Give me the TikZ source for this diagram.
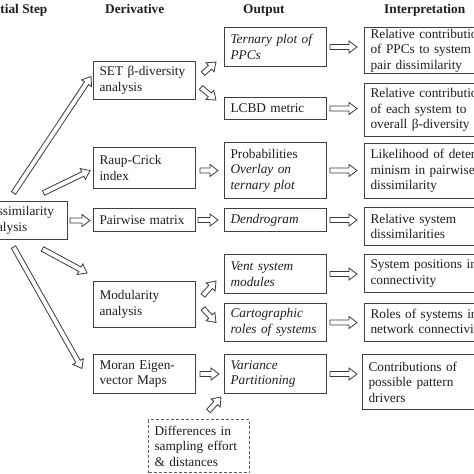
\documentclass[tikz,border=0pt]{standalone}
\usepackage{fontspec}
\setmainfont{Liberation Serif}
\usetikzlibrary{calc}
\newcommand{\fsz}{\fontsize{13.3}{15.5}\selectfont}
\definecolor{boxc}{HTML}{404040}
\definecolor{txtc}{HTML}{1E1E1E}
\definecolor{arrc}{HTML}{3A3A3A}
\newcommand{\barrow}[2]{%
  \coordinate (ba-s) at (#1);
  \coordinate (ba-e) at (#2);
  \coordinate (ba-b) at ($(ba-e)!8pt!(ba-s)$);
  \draw[blk] ($(ba-s)!2.5pt!90:(ba-e)$) -- ($(ba-b)!2.5pt!90:(ba-e)$) -- ($(ba-b)!6pt!90:(ba-e)$) -- (ba-e) -- ($(ba-b)!6pt!-90:(ba-e)$) -- ($(ba-b)!2.5pt!-90:(ba-e)$) -- ($(ba-s)!2.5pt!-90:(ba-e)$) -- cycle;}
\begin{document}
\begin{tikzpicture}[x=1pt,y=-1pt,
  bx/.style={draw=boxc, line width=1pt, inner xsep=6pt, inner ysep=0pt, align=left, anchor=north west, font=\fsz, text=txtc},
  dbx/.style={bx, draw=boxc!85, dash pattern=on 3pt off 2pt},
  hdr/.style={font=\fsz\bfseries, anchor=base west, inner sep=0pt, text=txtc},
  blk/.style={draw=arrc, line width=0.8pt, fill=white, line join=miter}]
\useasboundingbox (0,0) rectangle (474,474);
\clip (0,0) rectangle (474,474);
% headers
\node[hdr] (h1) at (-16,13) {Initial Step};
\node[hdr] (h2) at (105,13) {Derivative};
\node[hdr] (h3) at (243,13) {Output};
\node[hdr] (h4) at (384,13) {Interpretation};
% initial
\node[bx, text width=77pt, minimum height=38pt] (dis) at (-22,201) {Dissimilarity\\analysis};
% derivative
\node[bx, text width=90pt, minimum height=38pt] (set) at (93,61) {SET β-diversity\\analysis};
\node[bx, text width=90pt, minimum height=41pt] (raup) at (93,147) {Raup-Crick\\index};
\node[bx, text width=90pt, minimum height=23pt] (pair) at (93,208) {Pairwise matrix};
\node[bx, text width=90pt, minimum height=46pt] (mod) at (93,281) {Modularity\\analysis};
\node[bx, text width=90pt, minimum height=39pt] (moran) at (93,354) {Moran Eigen-\\vector Maps};
% output
\node[bx, text width=90pt, minimum height=39pt] (tern) at (224,27) {\textit{Ternary plot of}\\\textit{PPCs}};
\node[bx, text width=90pt, minimum height=22pt] (lcbd) at (224,97) {LCBD metric};
\node[bx, text width=90pt, minimum height=56pt] (prob) at (224,142) {Probabilities\\\textit{Overlay on}\\\textit{ternary plot}};
\node[bx, text width=90pt, minimum height=23pt] (dend) at (224,208) {\textit{Dendrogram}};
\node[bx, text width=90pt, minimum height=39pt] (vent) at (224,254) {\textit{Vent system}\\\textit{modules}};
\node[bx, text width=90pt, minimum height=38pt] (carto) at (224,303) {\textit{Cartographic}\\\textit{roles of systems}};
\node[bx, text width=90pt, minimum height=39pt] (var) at (224,354) {\textit{Variance}\\\textit{Partitioning}};
% interpretation
\node[bx, text width=134pt, minimum height=46pt] (i1) at (364,27) {Relative contribution\\of PPCs to system\\pair dissimilarity};
\node[bx, text width=134pt, minimum height=53pt] (i2) at (364,83) {Relative contribution\\of each system to\\overall β-diversity};
\node[bx, text width=134pt, minimum height=55pt] (i3) at (364,143) {Likelihood of deter-\\minism in pairwise\\dissimilarity};
\node[bx, text width=134pt, minimum height=38pt] (i4) at (364,207) {Relative system\\dissimilarities};
\node[bx, text width=134pt, minimum height=38pt] (i5) at (364,254) {System positions in\\connectivity};
\node[bx, text width=134pt, minimum height=38pt] (i6) at (364,303) {Roles of systems in\\network connectivity};
\node[bx, text width=136pt, minimum height=55pt] (i7) at (362,354) {Contributions of\\possible pattern\\drivers};
% dashed
\node[dbx, text width=89pt, minimum height=53pt] (diff) at (148,419) {Differences in\\sampling effort\\\& distances};
% arrows from initial step
\barrow{$(dis.north)+(-9.5,-8)$}{$(set.west)+(-2,-4)$}
\barrow{$(dis.north)+(20.5,-8)$}{$(raup.west)+(-3,2.5)$}
\barrow{$(dis.east)+(2,0)$}{$(dis.east -| pair.west)+(-3,0)$}
\barrow{$(dis.south)+(19.5,9)$}{$(mod.north west)+(-6,-8)$}
\barrow{$(dis.south)+(-9.5,7)$}{$(moran.west)+(-11,-5.5)$}
% derivative to output
\barrow{$(set.east)+(7,-7)$}{$(tern.south west)+(-8,-5)$}
\barrow{$(set.east)+(5,7)$}{$(lcbd.north west)+(-8,3)$}
\barrow{$(prob.west -| raup.east)+(4,0)$}{$(prob.west)+(-6,0)$}
\barrow{$(pair.east)+(2,0)$}{$(dend.west)+(-6,0)$}
\barrow{$(mod.east)+(7,-9)$}{$(vent.south west)+(-8,-13)$}
\barrow{$(mod.east)+(7,4)$}{$(carto.west)+(-8,0)$}
\barrow{$(moran.east)+(4,0)$}{$(var.west)+(-5,0)$}
\barrow{$(diff.north)+(9.5,-8)$}{$(var.south west)+(-3,3)$}
% output to interpretation
\barrow{$(tern.east)+(3,0)$}{$(tern.east -| i1.west)+(-7,0)$}
\barrow{$(lcbd.east)+(3,0)$}{$(lcbd.east -| i2.west)+(-7,0)$}
\barrow{$(prob.east)+(3,0)$}{$(prob.east -| i3.west)+(-7,0)$}
\barrow{$(dend.east)+(3,0)$}{$(dend.east -| i4.west)+(-7,0)$}
\barrow{$(vent.east)+(3,0)$}{$(vent.east -| i5.west)+(-7,0)$}
\barrow{$(carto.east)+(3,0)$}{$(carto.east -| i6.west)+(-7,0)$}
\barrow{$(var.east)+(3,0)$}{$(var.east -| i7.west)+(-5,0)$}
\end{tikzpicture}
\end{document}
